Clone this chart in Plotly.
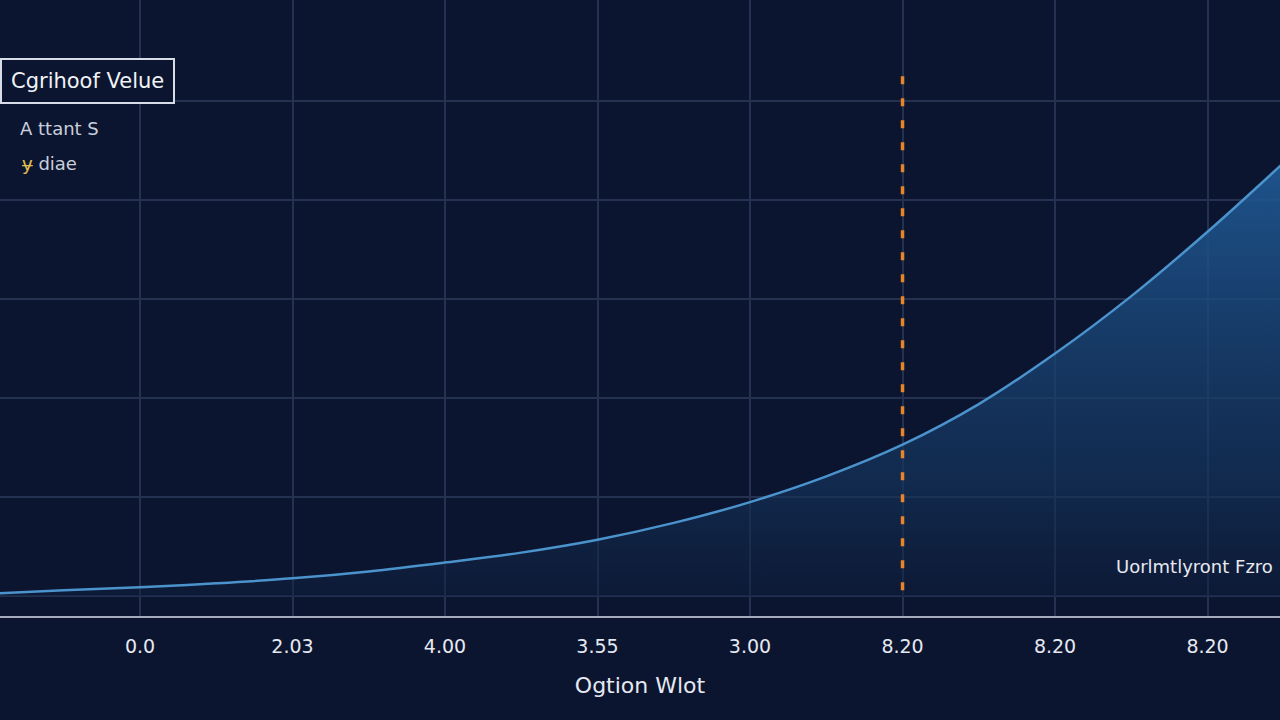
import plotly.graph_objects as go

# ---- data ----
tick_vals = [0, 1, 2, 3, 4, 5, 6, 7]
tick_text = ["0.0", "2.03", "4.00", "3.55", "3.00", "8.20", "8.20", "8.20"]
grid_y = [0, 1, 2, 3, 4, 5]
curve_x = [-0.92, -0.5, 0, 0.5, 1, 1.5, 2, 2.5, 3, 3.5, 4, 4.5, 5, 5.5, 6, 6.5, 7, 7.48]
curve_y = [0.03, 0.06, 0.09, 0.13, 0.18, 0.25, 0.34, 0.44, 0.57, 0.74, 0.95, 1.21, 1.53, 1.94, 2.45, 3.03, 3.68, 4.35]
strike_x = 5.0
strike_y = [0.06, 5.33]

BG = "#0c1530"
GRID = "#243150"

fig = go.Figure()

fig.add_trace(go.Scatter(
    x=curve_x, y=curve_y, mode="lines",
    line=dict(color="#4b93cc", width=2.5, shape="spline", smoothing=1.0),
    fill="tozeroy",
    fillgradient=dict(type="vertical",
                      colorscale=[[0, "rgba(14,32,62,0.45)"], [0.25, "rgba(20,52,92,0.65)"], [1, "rgba(32,90,150,0.9)"]]),
    showlegend=False, hoverinfo="skip",
))

fig.add_trace(go.Scatter(
    x=[strike_x, strike_x], y=strike_y, mode="lines",
    line=dict(color="#e8842a", width=3.5, dash="8px,14px"),
    showlegend=False, hoverinfo="skip",
))

fig.update_layout(
    width=1280, height=720,
    paper_bgcolor=BG, plot_bgcolor=BG,
    margin=dict(l=0, r=0, t=0, b=104),
    font=dict(family="DejaVu Sans", color="#e6e9f0"),
    xaxis=dict(
        range=[-0.918, 7.475], tickvals=tick_vals, ticktext=tick_text,
        showgrid=True, gridcolor=GRID, gridwidth=1.5, zeroline=False,
        showline=True, linecolor="#a3abbd", linewidth=2,
        ticks="outside", ticklen=12, tickcolor=BG,
        tickfont=dict(size=19, color="#e6e9f0"),
        title=dict(text="Ogtion Wlot", font=dict(size=22, color="#e6e9f0"), standoff=22),
    ),
    yaxis=dict(
        range=[-0.2, 6.02], tickvals=grid_y, showgrid=True, gridcolor=GRID, gridwidth=1.5,
        zeroline=False, showticklabels=False, showline=False,
    ),
    annotations=[
        dict(xref="paper", yref="paper", x=0.0, y=1 - 81 / 616, xanchor="left", yanchor="middle",
             text="Cgrihoof Velue", showarrow=False, font=dict(size=21, color="#f0f2f6"),
             bordercolor="#d8dce6", borderwidth=2, borderpad=9, bgcolor=BG),
        dict(xref="paper", yref="paper", x=18 / 1280, y=1 - 128 / 616, xanchor="left", yanchor="middle",
             text="A ttant S", showarrow=False, font=dict(size=18, color="#c9cfdb")),
        dict(xref="paper", yref="paper", x=20 / 1280, y=1 - 163 / 616, xanchor="left", yanchor="middle",
             text="<span style='color:#e0c050'>ɏ</span> diae", showarrow=False,
             font=dict(size=18, color="#c9cfdb")),
        dict(xref="paper", yref="paper", x=1114 / 1280, y=1 - 566 / 616, xanchor="left", yanchor="middle",
             text="Uorlmtlyront Fzro", showarrow=False, font=dict(size=18, color="#e6e9f0")),
    ],
)

fig.write_html(
    "out.html",
    config={"displayModeBar": False},
    post_script="document.body.style.margin='0';document.body.style.background='#0c1530';",
)
